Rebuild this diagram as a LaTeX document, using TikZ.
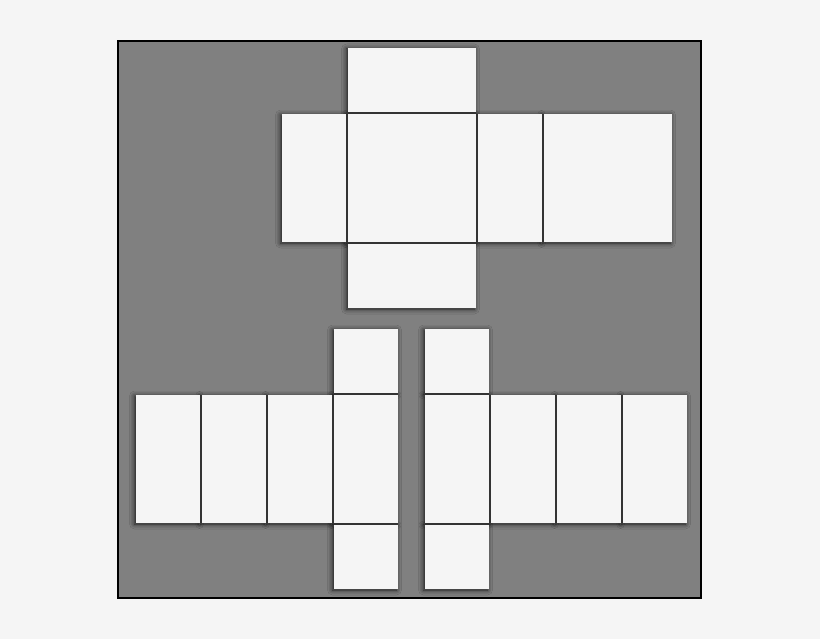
\documentclass[tikz,border=0pt]{standalone}
\usetikzlibrary{shadows.blur}
\definecolor{pagebg}{HTML}{F5F5F5}
\definecolor{sheet}{HTML}{808080}
\definecolor{seamcol}{HTML}{333333}
\tikzset{
    panel/.style={rectangle, fill=pagebg, inner sep=0pt, outer sep=0pt, anchor=north west,
        blur shadow={shadow xshift=-1.5pt, shadow yshift=-1pt, shadow blur radius=5pt, shadow opacity=80}},
    sq/.style={panel, minimum width=64pt, minimum height=64pt},
    tall/.style={panel, minimum width=64pt, minimum height=128pt},
    big/.style={panel, minimum width=128pt, minimum height=128pt},
    wide/.style={panel, minimum width=128pt, minimum height=64pt},
    seam/.style={draw=seamcol, line width=1.6pt}
}
\begin{document}
\begin{tikzpicture}[x=1pt, y=-1pt]
    % Page
    \fill[pagebg] (0,0) rectangle (820,639);
    \draw[line width=1.5pt, fill=sheet] (118,41) rectangle (701,598);

    % Torso
    \node[wide] (up) at (348,48) {};
    \node[tall] (rside) at (282,114) {};
    \node[big] (front) at (348,114) {};
    \node[tall] (lside) at (478,114) {};
    \node[big] (back) at (544,114) {};
    \node[wide] (down) at (348,244) {};

    % Arms
    \foreach \arm/\x/\t in {ra/136/334, la/425/425} {
        \node[sq] (\arm-up) at (\t,329) {};
        \node[sq] (\arm-down) at (\t,525) {};
        \foreach \i in {0,...,3} {
            \node[tall] (\arm-\i) at (\x+66*\i,395) {};
        }
    }

    % Fill again, so no shadow lies on a panel
    \foreach \p in {up,rside,front,lside,back,down,
                    ra-up,ra-down,ra-0,ra-1,ra-2,ra-3,
                    la-up,la-down,la-0,la-1,la-2,la-3}
        \fill[pagebg] (\p.north west) rectangle (\p.south east);

    % Seams of the torso
    \draw[seam] ([yshift=-1pt]up.south west) -- ([yshift=-1pt]up.south east);
    \draw[seam] ([yshift=1pt]down.north west) -- ([yshift=1pt]down.north east);
    \draw[seam] ([xshift=-1pt]front.north west) -- ([xshift=-1pt]front.south west);
    \draw[seam] ([xshift=1pt]front.north east) -- ([xshift=1pt]front.south east);
    \draw[seam] ([xshift=1pt]lside.north east) -- ([xshift=1pt]lside.south east);

    % Seams of the arms
    \foreach \arm in {ra,la} {
        \draw[seam] ([yshift=-1pt]\arm-up.south west) -- ([yshift=-1pt]\arm-up.south east);
        \draw[seam] ([yshift=1pt]\arm-down.north west) -- ([yshift=1pt]\arm-down.north east);
        \foreach \i in {0,1,2}
            \draw[seam] ([xshift=1pt]\arm-\i.north east) -- ([xshift=1pt]\arm-\i.south east);
    }
\end{tikzpicture}
\end{document}
